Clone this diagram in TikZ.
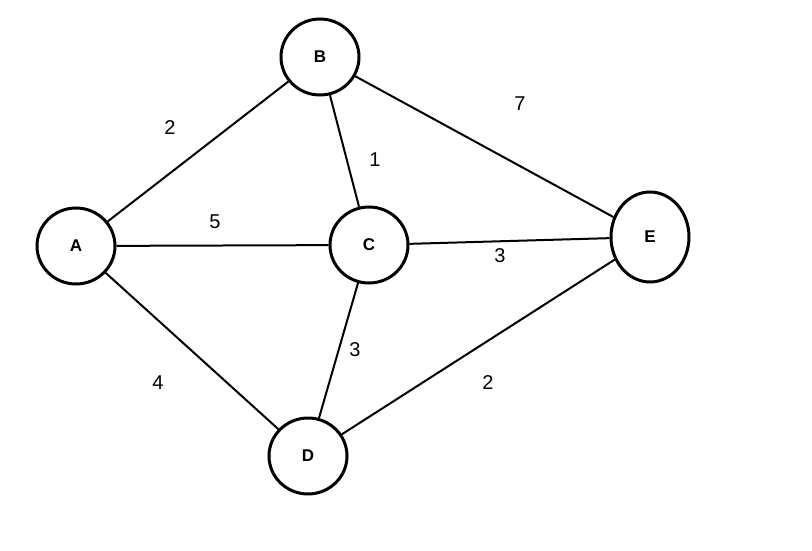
\documentclass[tikz,border=0pt]{standalone}
\usepackage{fontspec}
\setmainfont{Liberation Sans}
\usetikzlibrary{shapes.geometric}
\begin{document}
\begin{tikzpicture}[x=1pt,y=-1pt,
  vert/.style={draw,ellipse,line width=3pt,fill=white,minimum width=78pt,minimum height=76pt,inner sep=0pt,font=\fontsize{17}{17}\selectfont\bfseries},
  edge/.style={line width=2pt},
  wt/.style={font=\fontsize{20}{20}\selectfont}]
\useasboundingbox (0,0) rectangle (812,551);
\fill[white] (0,0) rectangle (812,551);
\node[vert] (A) at (76,246) {A};
\node[vert] (B) at (320,57) {B};
\node[vert] (C) at (369,245) {C};
\node[vert] (D) at (308,456) {D};
\node[vert,minimum width=78pt,minimum height=90pt] (E) at (650,237) {E};
\begin{scope}[on background layer/.style={}]
\end{scope}
\draw[edge] (A) -- (B);
\draw[edge] (B) -- (E);
\draw[edge] (B) -- (C);
\draw[edge] (A) -- (C);
\draw[edge] (C) -- (E);
\draw[edge] (C) -- (D);
\draw[edge] (A) -- (D);
\draw[edge] (D) -- (E);
\node[wt] (w1) at (170,128) {2};
\node[wt] (w2) at (520,104) {7};
\node[wt] (w3) at (375,160) {1};
\node[wt] (w4) at (215,222) {5};
\node[wt] (w5) at (500,256) {3};
\node[wt] (w6) at (355,350) {3};
\node[wt] (w7) at (158,383) {4};
\node[wt] (w8) at (488,383) {2};
\end{tikzpicture}
\end{document}
